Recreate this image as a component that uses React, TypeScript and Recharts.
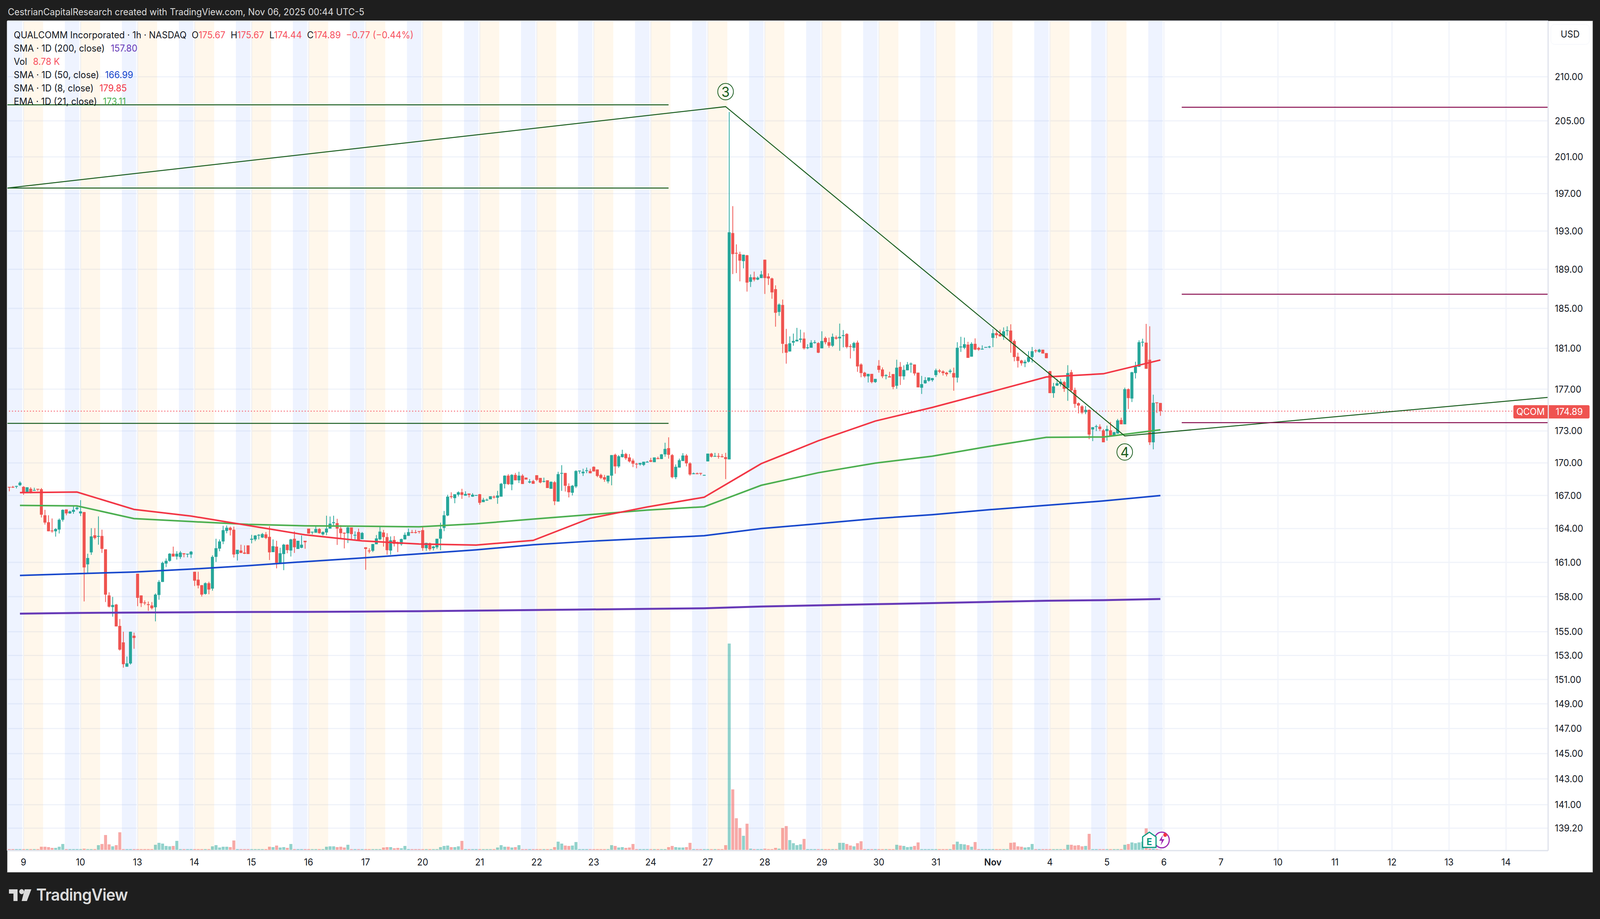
import {
  Bar,
  CartesianGrid,
  ComposedChart,
  Line,
  ReferenceArea,
  ReferenceDot,
  ReferenceLine,
  XAxis,
  YAxis,
} from "recharts";

const FONT = "Inter, 'Noto Sans', sans-serif";
const UP = "#26a69a";
const DOWN = "#ef5350";
const DRAWING = "#1b5e20";
const TARGET = "#880e4f";
const PAGE_WIDTH = 4286;
const PAGE_HEIGHT = 2352;

// hourly bars, the first one sits 4 bars before the Oct 9 session
const firstBar = -4;

const opens = [
  167.79,167.79,167.82,167.94,
  167.79,167.31,167.61,167.45,167.61,167.57,165.20,164.57,163.83,163.76,163.91,164.79,165.73,165.37,165.51,165.76,
  165.37,165.49,160.82,161.88,163.40,163.26,163.34,162.15,158.11,157.11,157.32,155.49,154.10,152.06,152.33,154.66,
  160.0,158.11,157.50,157.35,157.24,157.09,158.15,159.28,160.89,161.13,161.76,161.51,161.47,161.80,161.69,161.69,
  160.17,159.48,159.0,158.24,159.17,158.70,161.48,162.21,162.85,163.79,164.08,163.90,161.73,162.04,161.86,162.5,
  163.0,163.03,163.38,163.2,163.48,163.26,161.9,162.39,160.93,161.73,162.56,162.04,163.09,162.18,162.29,162.91,
  164.0,163.66,163.63,163.96,163.48,163.65,164.0,164.49,164.49,164.0,163.63,163.58,164.1,163.38,163.69,163.05,
  162.33,162.04,162.02,162.6,163.04,163.65,163.24,162.04,162.98,162.72,162.6,163.03,163.35,163.68,163.68,163.78,
  163.86,162.25,162.69,162.25,162.33,163.1,164.06,165.18,166.93,166.76,167.07,167.29,166.98,167.18,166.89,166.98,
  167.11,166.39,166.55,166.65,166.89,166.79,166.89,168.05,168.82,168.01,168.89,168.39,168.82,168.64,168.19,168.32,
  168.86,168.61,168.25,168.39,167.61,168.21,166.44,169.0,169.07,167.86,167.25,167.82,169.23,169.04,169.26,169.25,
  169.64,169.39,168.89,168.68,168.29,168.82,170.76,169.68,170.54,170.83,170.51,170.22,169.93,169.86,169.82,170.04,
  170.25,170.07,170.44,170.36,170.8,171.38,170.73,168.68,169.57,170.18,170.69,169.96,168.96,169.04,169.07,168.82,
  170.14,170.87,170.58,170.65,170.62,170.54,170.33,192.79,190.71,190.58,189.85,190.46,187.71,188.18,187.94,188.1,
  190.0,188.27,188.06,186.96,184.64,185.35,181.41,180.69,181.57,181.69,181.85,181.97,181.02,181.06,181.53,181.53,
  181.0,182.03,181.61,181.26,182.09,181.99,182.23,182.43,181.22,181.06,181.57,179.41,178.61,178.25,178.49,177.69,
  179.29,178.92,178.29,178.25,178.47,177.33,179.18,178.25,178.84,179.41,179.41,178.61,177.14,177.57,177.82,177.88,
  178.37,178.82,178.73,178.61,178.69,178.57,178.12,181.1,181.06,181.37,180.18,181.45,181.04,180.88,181.08,181.1,
  182.04,182.51,182.4,182.16,182.75,182.77,181.73,180.18,179.8,179.53,179.68,180.14,180.8,180.64,180.87,180.53,
  178.76,176.62,177.35,177.5,177.69,177.12,178.65,176.93,175.65,175.35,174.79,175.01,173.14,173.41,173.41,173.06,
  172.99,173.06,172.58,172.76,174.04,173.63,177.0,176.1,178.57,179.18,181.6,181.57,179.88,171.93,175.73,175.67,
];

const highs = [
  167.79,167.88,167.88,168.29,
  167.86,167.75,167.75,167.71,167.61,167.68,165.69,165.20,164.91,164.04,164.91,165.73,165.73,165.62,166.02,166.02,
  166.57,165.49,161.76,164.04,164.04,165.10,163.90,162.15,158.38,157.98,157.38,156.08,155.0,152.91,155.0,154.92,
  160.0,158.11,157.68,157.58,157.54,158.28,159.44,161.06,161.34,161.81,162.39,161.98,162.0,161.80,161.76,162.0,
  160.17,160.17,159.0,159.24,159.30,161.62,163.09,163.03,164.25,164.28,164.18,164.18,162.11,162.56,162.5,162.5,
  163.44,163.41,163.5,163.61,163.69,164.21,163.03,162.91,162.29,162.64,162.6,163.09,163.75,162.91,163.38,162.91,
  164.0,163.72,164.21,164.04,163.75,165.16,165.09,165.16,164.88,164.31,163.65,164.21,164.1,163.75,164.0,163.69,
  162.33,162.24,162.62,163.42,164.24,163.88,163.59,163.3,163.33,162.83,163.1,163.65,164.0,163.88,163.88,163.78,
  164.12,162.72,162.74,162.45,163.09,164.53,165.59,167.06,167.29,167.11,167.38,167.61,167.38,167.18,167.21,167.04,
  167.14,166.78,166.72,166.93,167.0,167.42,168.15,168.85,168.96,168.96,169.07,169.18,168.96,168.64,168.5,168.43,
  168.86,168.61,168.64,168.39,168.29,168.32,169.18,169.79,169.07,168.11,167.96,169.32,169.29,169.46,169.57,169.46,
  169.68,169.39,169.0,168.89,168.82,170.73,170.87,170.73,171.23,170.94,170.83,170.4,170.0,170.0,170.11,170.18,
  170.47,170.51,170.58,170.83,171.89,172.4,170.83,169.86,170.4,170.91,170.83,170.07,169.11,169.11,169.07,168.89,
  170.87,170.94,170.94,170.91,170.83,170.94,206.0,195.65,191.6,190.83,190.52,190.5,188.47,188.76,188.27,188.84,
  190.0,188.59,188.14,187.35,185.51,185.9,182.94,182.19,182.47,183.04,182.86,182.59,181.41,181.81,181.81,181.61,
  182.7,182.17,182.07,182.47,182.27,183.47,182.82,182.51,181.41,181.65,181.77,179.53,178.69,178.49,178.49,178.0,
  179.84,179.12,178.45,178.69,178.47,179.88,179.65,179.33,179.65,179.61,179.41,178.61,178.29,178.18,178.14,178.08,
  179.0,178.96,178.84,178.69,178.96,179.1,181.61,182.15,182.07,181.65,181.61,181.99,181.14,181.3,181.14,181.26,
  182.92,182.83,182.86,183.09,183.2,183.4,181.88,180.57,179.87,179.87,180.72,181.14,180.91,180.95,180.87,180.53,
  178.76,177.61,178.0,178.0,177.8,179.34,178.88,177.15,175.72,175.46,175.38,175.05,173.36,173.59,173.63,173.18,
  173.51,173.85,172.92,174.14,174.26,177.15,177.08,178.69,179.68,181.8,181.96,183.44,183.2,176.47,175.73,175.67,
];

const lows = [
  167.38,167.69,167.65,167.86,
  167.05,167.28,167.19,167.44,167.40,165.0,164.36,163.76,163.63,163.28,163.56,164.63,165.20,165.33,165.33,165.66,
  165.13,157.59,160.04,161.66,163.03,162.56,161.83,157.54,157.07,156.28,155.45,153.41,151.98,152.06,152.24,153.56,
  157.18,157.11,157.28,156.78,156.90,155.88,157.74,159.28,160.58,161.06,161.51,161.24,161.30,161.44,161.44,161.38,
  158.93,158.72,158.01,158.18,158.21,158.52,161.03,161.98,162.61,163.58,163.38,161.42,161.16,161.81,161.73,161.73,
  162.68,162.88,163.03,163.16,163.06,161.2,161.9,160.47,160.85,160.31,161.8,161.51,161.83,162.18,162.25,162.2,
  163.55,163.48,163.63,163.55,163.38,163.41,164.0,164.25,162.54,163.09,162.23,162.71,163.01,163.03,162.95,163.05,
  160.34,161.8,161.9,162.6,162.97,162.39,161.67,161.67,162.4,161.9,162.47,163.03,163.35,163.59,163.56,163.56,
  162.02,162.02,162.02,162.05,162.17,162.07,163.77,165.12,166.71,166.29,166.91,166.69,166.98,166.82,166.87,166.98,
  166.15,166.39,166.51,166.65,166.71,166.24,166.89,167.64,167.96,167.48,168.39,168.14,168.05,168.46,168.11,168.07,
  168.32,168.11,168.19,167.68,167.61,166.12,166.44,167.42,167.36,166.82,167.0,167.68,169.0,168.79,169.05,169.04,
  169.21,168.68,168.5,168.25,168.11,167.93,169.0,169.54,170.51,170.29,170.04,169.61,169.5,169.75,169.71,170.04,
  170.07,170.07,170.36,170.36,170.58,170.4,168.57,168.5,169.57,170.18,169.68,168.82,168.96,168.96,168.86,168.82,
  170.14,170.51,170.58,170.4,170.51,168.5,170.33,188.51,188.61,187.76,189.1,186.71,187.18,187.76,187.88,188.1,
  186.47,187.39,185.98,183.16,184.25,180.53,179.49,180.69,181.26,181.69,181.57,180.88,180.92,181.06,181.47,180.53,
  181.0,181.41,181.06,181.14,181.87,180.76,181.1,181.0,180.0,180.73,178.69,178.16,178.12,177.65,177.57,177.61,
  178.61,178.08,177.96,178.14,177.0,177.04,177.41,177.92,178.84,178.61,178.33,177.18,176.54,177.53,177.73,177.73,
  178.18,178.57,178.33,178.25,178.53,176.85,177.65,180.65,180.92,180.06,180.18,180.82,180.76,180.88,181.08,181.02,
  181.13,182.01,182.16,181.84,182.27,180.57,179.72,179.11,179.3,179.15,179.6,179.6,180.57,180.57,180.49,180.03,
  176.62,176.17,177.31,177.27,176.74,175.88,176.77,175.2,174.67,174.6,174.6,172.22,172.04,172.99,172.99,171.93,
  172.08,172.47,172.55,172.74,173.63,173.63,175.09,175.76,178.04,179.18,181.18,178.99,171.68,171.27,174.71,174.44,
];

const closes = [
  167.73,167.73,167.87,168.17,
  167.31,167.75,167.28,167.50,167.55,165.25,164.54,163.76,163.76,163.96,164.79,165.69,165.37,165.55,165.69,165.89,
  165.55,160.55,161.38,163.30,163.16,163.34,162.19,158.18,157.14,157.28,155.45,153.49,152.27,152.34,155.0,154.47,
  157.90,157.44,157.44,157.28,157.01,158.18,159.28,160.95,161.13,161.76,161.51,161.76,161.86,161.71,161.76,161.94,
  159.39,158.97,158.18,159.17,158.62,161.48,162.25,162.85,163.86,164.08,163.86,161.69,162.11,161.83,161.76,161.73,
  163.09,163.38,163.44,163.51,163.16,161.88,162.43,160.95,161.8,162.56,162.08,163.03,162.33,162.91,162.56,162.78,
  163.55,163.72,163.96,163.59,163.69,164.0,164.44,164.57,164.0,163.59,163.55,164.1,163.51,163.44,162.95,163.61,
  162.18,161.98,162.62,163.12,163.73,163.24,162.07,162.95,162.63,162.62,163.06,163.44,163.68,163.61,163.61,163.71,
  162.26,162.72,162.16,162.4,163.09,163.96,165.2,166.89,166.87,167.11,167.29,167.05,167.14,167.05,167.07,167.04,
  166.33,166.61,166.61,166.93,166.84,167.0,168.07,168.82,168.04,168.89,168.39,168.82,168.05,168.46,168.29,168.07,
  168.43,168.19,168.32,167.68,168.25,166.47,168.96,169.07,167.89,167.29,167.89,169.25,169.29,169.18,169.32,169.04,
  169.21,168.79,168.61,168.46,168.82,170.73,169.68,170.62,170.83,170.44,170.14,169.93,169.86,170.0,170.11,170.11,
  170.11,170.51,170.36,170.8,171.31,170.76,168.68,169.64,170.25,170.69,169.96,168.93,169.04,168.96,169.0,168.89,
  170.87,170.58,170.65,170.58,170.54,170.36,192.87,190.58,190.63,189.9,190.52,187.63,188.18,187.94,188.14,188.47,
  188.1,188.06,186.63,184.56,185.39,181.45,180.57,181.5,181.73,181.85,181.97,181.0,181.1,181.57,181.61,180.57,
  181.73,181.61,181.26,182.15,181.97,182.15,182.31,181.14,181.14,181.53,179.22,178.57,178.25,178.49,177.69,178.0,
  178.88,178.25,178.37,178.14,177.22,179.1,178.25,178.88,179.41,179.49,178.53,177.18,177.49,177.88,178.14,178.08,
  178.84,178.71,178.57,178.45,178.8,178.14,181.06,181.18,181.41,180.06,181.45,180.88,180.88,180.96,181.14,181.18,
  182.51,182.31,182.2,182.7,182.8,181.65,180.14,179.76,179.53,179.68,180.14,180.72,180.74,180.87,180.49,180.03,
  176.62,177.27,177.57,177.73,177.04,178.57,176.89,175.58,175.42,174.75,175.01,172.66,173.36,173.45,173.18,171.93,
  173.18,172.51,172.88,174.0,173.63,177.0,176.14,178.65,179.22,181.61,181.65,178.99,171.93,175.69,175.67,174.89,
];

// volume in thousands of shares
const volumes = [
  20,20,20,20,
  20,20,20,20,20,80,80,70,50,50,80,150,20,20,20,20,
  20,30,20,20,20,120,150,380,140,90,120,450,20,20,20,20,
  20,20,20,20,20,130,180,160,100,90,100,230,20,20,20,20,
  20,20,20,20,20,90,120,60,80,80,70,240,20,20,20,20,
  20,20,20,20,20,80,70,110,60,70,50,150,20,20,20,20,
  20,20,20,20,20,80,90,90,70,80,60,130,20,20,20,20,
  20,20,20,20,20,60,70,70,40,50,40,100,20,20,20,20,
  20,20,20,20,20,70,100,110,70,70,90,230,20,20,20,20,
  20,20,20,20,20,60,120,80,80,60,70,120,20,20,20,20,
  20,20,20,20,20,70,210,160,110,100,110,200,20,20,20,20,
  20,20,20,20,20,120,100,60,70,50,60,150,20,20,20,20,
  20,20,20,20,20,70,100,70,60,60,70,180,20,20,20,20,
  20,20,20,20,20,120,5290,1550,810,560,360,670,30,20,20,20,
  30,20,20,50,30,560,610,250,170,120,140,280,20,20,20,20,
  20,20,20,20,20,180,180,150,110,90,170,220,20,20,20,20,
  20,20,20,20,20,130,110,100,70,80,100,190,20,20,20,20,
  20,20,20,20,20,140,210,150,140,120,80,200,20,20,20,20,
  20,20,20,20,20,180,190,90,80,60,70,150,20,20,20,20,
  20,20,20,20,20,130,130,110,120,90,100,410,20,20,20,20,
  20,20,20,20,20,130,150,190,170,190,210,550,30,30,20,9,
];

// the daily moving averages step once per session on the hourly chart
const maBars = [-1,15,31,47,63,79,95,111,127,143,159,175,191,207,223,239,255,271,287,303,319];
const sma8 = [167.26,167.31,165.73,165.13,164.28,163.44,162.9,162.62,162.53,162.94,164.93,165.95,166.84,169.93,172.07,173.94,175.24,176.7,178.19,178.5,179.85];
const ema21 = [166.09,166.05,164.9,164.63,164.38,164.25,164.21,164.16,164.43,164.85,165.26,165.67,165.97,167.93,169.09,169.98,170.63,171.55,172.4,172.43,173.11];
const sma50 = [159.85,160.0,160.15,160.4,160.7,161.06,161.38,161.75,162.1,162.55,162.87,163.12,163.36,164.0,164.44,164.9,165.25,165.7,166.1,166.5,166.99];
const sma200 = [156.54,156.6,156.63,156.66,156.68,156.69,156.72,156.75,156.8,156.85,156.9,156.95,157.0,157.15,157.25,157.35,157.45,157.55,157.65,157.7,157.8];

const waveBars = [-4.5, 197, 309, 427.8];
const wavePrices = [197.6, 206.6, 172.53, 176.21];

const dayTicks = [0,16,32,48,64,80,96,112,128,144,160,176,192,208,224,240,256,272,288,304,320,336,352,368,384,400,416];
const dayLabels = ["9","10","13","14","15","16","17","20","21","22","23","24","27","28","29","30","31","Nov","4","5","6","7","10","11","12","13","14"];
const priceTicks = [210,205,201,197,193,189,185,181,177,173,170,167,164,161,158,155,153,151,149,147,145,143,141,139.2];

// horizontal trendlines drawn on the chart
const greenLevels = [206.8, 197.6, 173.72];
const greenEnd = 181;
const purpleLevels = [206.53, 186.44, 173.79];
const purpleStart = 325;

const lastClose = 174.89;
const xDomain: [number, number] = [-4.5, 427.8];

const candleRows = opens.map((open, n) => ({
  i: n + firstBar,
  wick: [lows[n], highs[n]],
  body: [Math.min(open, closes[n]), Math.max(open, closes[n])],
  vol: volumes[n],
  up: closes[n] >= open,
}));
const maRows = maBars.map((i, n) => ({ i, sma8: sma8[n], ema21: ema21[n], sma50: sma50[n], sma200: sma200[n] }));
const waveRows = waveBars.map((i, n) => ({ i, price: wavePrices[n] }));
const sessions = dayTicks.filter((t) => t <= 320);

// keeps the bar's own centre and extent from the scales, only the drawn width is fixed
function candleShape(drawWidth: number, opacity: number, minHeight: number) {
  return (props: any) => {
    const { x, y, width, height, payload } = props;
    const top = Math.min(y, y + height);
    return (
      <rect
        x={x + width / 2 - drawWidth / 2}
        y={top}
        width={drawWidth}
        height={Math.max(Math.abs(height), minHeight)}
        fill={payload.up ? UP : DOWN}
        fillOpacity={opacity}
      />
    );
  };
}

function DayTick({ x, y, payload }: any) {
  const label = dayLabels[dayTicks.indexOf(payload.value)];
  return (
    <text x={x} y={y + 18} textAnchor="middle" fontFamily={FONT} fontSize={24} fontWeight={label === "Nov" ? 600 : 400} fill="#131722">
      {label}
    </text>
  );
}

function Circled({ cx, cy, value }: any) {
  return (
    <g>
      <circle cx={cx} cy={cy} r={21} fill="none" stroke={DRAWING} strokeWidth={2} />
      <text x={cx} y={cy + 13} textAnchor="middle" fontFamily={FONT} fontSize={36} fill={DRAWING}>
        {value}
      </text>
    </g>
  );
}

function EarningsIcon({ cx, cy }: any) {
  return (
    <g>
      <path
        d={`M${cx - 18} ${cy + 19} v-27 l18 -12 l18 12 v27 z`}
        fill="#fff"
        stroke="#089981"
        strokeWidth={3}
        strokeLinejoin="round"
      />
      <text x={cx} y={cy + 13} textAnchor="middle" fontFamily={FONT} fontSize={24} fontWeight={700} fill="#089981">
        E
      </text>
    </g>
  );
}

function SplitIcon({ cx, cy }: any) {
  return (
    <g>
      <circle cx={cx} cy={cy} r={20} fill="#fff" stroke="#9c27b0" strokeWidth={3} />
      <path d={`M${cx + 3} ${cy - 13} l-10 15 h7 l-3 12 l10 -16 h-7 z`} fill="#9c27b0" />
      <circle cx={cx + 9} cy={cy - 13} r={5} fill="#f23645" />
    </g>
  );
}

function PriceTag({ left, width, text, radius }: any) {
  return (
    <div
      style={{
        position: "absolute",
        left,
        top: 1037,
        width,
        height: 34,
        background: DOWN,
        color: "#fff",
        borderRadius: radius,
        font: `24px ${FONT}`,
        lineHeight: "34px",
        textAlign: "center",
      }}
    >
      {text}
    </div>
  );
}

const legendLines = [
  { name: "SMA · 1D (200, close)", value: "157.80", color: "#673ab7", top: 109 },
  { name: "Vol", value: "8.78 K", color: "#f7525f", top: 143 },
  { name: "SMA · 1D (50, close)", value: "166.99", color: "#1848cc", top: 177 },
  { name: "SMA · 1D (8, close)", value: "179.85", color: "#f23645", top: 211 },
  { name: "EMA · 1D (21, close)", value: "173.11", color: "#4caf50", top: 245 },
];
const quote = [
  ["O", "175.67"],
  ["H", "175.67"],
  ["L", "174.44"],
  ["C", "174.89"],
];

export default function App() {
  // the browser can clamp the window below the requested width, keep the whole page in view
  const fit = Math.min(1, window.innerWidth / PAGE_WIDTH);
  return (
    <div
      style={{
        position: "absolute",
        left: 0,
        top: 0,
        width: PAGE_WIDTH,
        height: PAGE_HEIGHT,
        background: "#1e1e1e",
        overflow: "hidden",
        transform: `scale(${fit}, 1)`,
        transformOrigin: "0 0",
      }}
    >
      <div style={{ position: "absolute", left: 21, top: 16, color: "#dbdbdb", font: `24px ${FONT}`, lineHeight: "30px", whiteSpace: "nowrap" }}>
        CestrianCapitalResearch created with TradingView.com, Nov 06, 2025 00:44 UTC-5
      </div>
      <div style={{ position: "absolute", left: 20, top: 54, width: 4246, height: 2178, background: "#fff", boxShadow: "0 0 0 1px #8a8a8a" }} />

      <div style={{ position: "absolute", left: 0, top: 0 }}>
        <ComposedChart
          width={PAGE_WIDTH}
          height={PAGE_HEIGHT}
          data={candleRows}
          margin={{ top: 54, right: 20, bottom: 120, left: 20 }}
        >
          <CartesianGrid stroke="#f0f3fa" strokeWidth={3} />
          <XAxis
            type="number"
            dataKey="i"
            domain={xDomain}
            allowDataOverflow
            ticks={dayTicks}
            interval={0}
            height={55}
            tickLine={false}
            tickSize={0}
            tickMargin={20}
            axisLine={{ stroke: "#e0e3eb", strokeWidth: 3 }}
            tick={DayTick}
          />
          <XAxis xAxisId="wick" type="number" dataKey="i" domain={xDomain} allowDataOverflow hide />
          <XAxis xAxisId="vol" type="number" dataKey="i" domain={xDomain} allowDataOverflow hide />
          <YAxis
            orientation="right"
            scale="log"
            domain={[137.5, 216.5]}
            allowDataOverflow
            ticks={priceTicks}
            interval={0}
            width={119}
            tickLine={false}
            tickSize={0}
            tickMargin={18}
            axisLine={{ stroke: "#e0e3eb", strokeWidth: 3 }}
            tick={{ fontFamily: FONT, fontSize: 24, fill: "#131722" }}
            tickFormatter={(p: number) => p.toFixed(2)}
          />
          <YAxis yAxisId="vol" domain={[-20, 21250]} hide />

          {sessions.map((t) => (
            <ReferenceArea key={`post-${t}`} x1={t - 4.4} x2={t - 0.37} fill="#2962ff" fillOpacity={0.08} stroke="none" />
          ))}
          {sessions.filter((t) => t < 320).map((t) => (
            <ReferenceArea key={`pre-${t}`} x1={t + 0.05} x2={t + 5.5} fill="#ff9800" fillOpacity={0.08} stroke="none" />
          ))}

          <Bar xAxisId="vol" yAxisId="vol" dataKey="vol" isAnimationActive={false} shape={candleShape(8, 0.5, 1)} />

          <ReferenceLine y={lastClose} stroke="#f7525f" strokeWidth={2} strokeDasharray="3 5" />

          <Line data={maRows} dataKey="sma200" stroke="#673ab7" strokeWidth={5} dot={false} isAnimationActive={false} />
          <Line data={maRows} dataKey="sma50" stroke="#1848cc" strokeWidth={4} dot={false} isAnimationActive={false} />
          <Line data={maRows} dataKey="ema21" stroke="#4caf50" strokeWidth={4} dot={false} isAnimationActive={false} />
          <Line data={maRows} dataKey="sma8" stroke="#f23645" strokeWidth={4} dot={false} isAnimationActive={false} />

          <Bar xAxisId="wick" dataKey="wick" isAnimationActive={false} shape={candleShape(2, 1, 1)} />
          <Bar dataKey="body" isAnimationActive={false} shape={candleShape(8, 1, 2)} />

          <Line data={waveRows} dataKey="price" stroke={DRAWING} strokeWidth={2.5} dot={false} isAnimationActive={false} />

          {greenLevels.map((p) => (
            <ReferenceLine
              key={p}
              segment={[{ x: xDomain[0], y: p }, { x: greenEnd, y: p }]}
              stroke={DRAWING}
              strokeWidth={2.5}
            />
          ))}
          {purpleLevels.map((p) => (
            <ReferenceLine
              key={p}
              segment={[{ x: purpleStart, y: p }, { x: xDomain[1], y: p }]}
              stroke={TARGET}
              strokeWidth={2.5}
            />
          ))}

          <ReferenceDot x={197} y={208.3} shape={(props: any) => <Circled {...props} value="3" />} />
          <ReferenceDot x={309} y={171.02} shape={(props: any) => <Circled {...props} value="4" />} />
          <ReferenceDot x={319.4} y={138.3} shape={(props: any) => <SplitIcon {...props} />} />
          <ReferenceDot x={315.9} y={138.3} shape={(props: any) => <EarningsIcon {...props} />} />
        </ComposedChart>
      </div>

      <div style={{ position: "absolute", left: 37, top: 75, color: "#131722", font: `24px ${FONT}`, lineHeight: "30px", whiteSpace: "nowrap" }}>
        QUALCOMM Incorporated · 1h · NASDAQ
        {quote.map(([k, v]) => (
          <span key={k} style={{ marginLeft: 14 }}>
            {k}
            <span style={{ color: "#f7525f" }}>{v}</span>
          </span>
        ))}
        <span style={{ color: "#f7525f", marginLeft: 14 }}>−0.77 (−0.44%)</span>
      </div>
      {legendLines.map((l) => (
        <div key={l.name} style={{ position: "absolute", left: 37, top: l.top, color: "#131722", font: `24px ${FONT}`, lineHeight: "30px", whiteSpace: "nowrap" }}>
          {l.name}
          <span style={{ color: l.color, marginLeft: 16 }}>{l.value}</span>
        </div>
      ))}

      <div style={{ position: "absolute", left: 4154, top: 62, width: 104, height: 52, border: "1px solid #f0f3fa", borderRadius: 10, boxSizing: "border-box", color: "#131722", font: `24px ${FONT}`, lineHeight: "50px", textAlign: "center" }}>
        USD
      </div>
      <PriceTag left={4054} width={92} text="QCOM" radius="4px 0 0 4px" />
      <PriceTag left={4149} width={109} text="174.89" radius="0 4px 4px 0" />

      <svg style={{ position: "absolute", left: 0, top: 0 }} width={PAGE_WIDTH} height={PAGE_HEIGHT}>
        <path d="M24 2276 h23 v30 h-11 v-19 h-12 z" fill="#dbdbdb" />
        <circle cx={58} cy={2282} r={6.5} fill="#dbdbdb" />
        <path d="M66 2276 h18 l-12 30 h-14 z" fill="#dbdbdb" />
      </svg>
      <div style={{ position: "absolute", left: 97, top: 2264, color: "#dbdbdb", font: `600 42px ${FONT}`, lineHeight: "52px", letterSpacing: -1 }}>
        TradingView
      </div>
    </div>
  );
}
